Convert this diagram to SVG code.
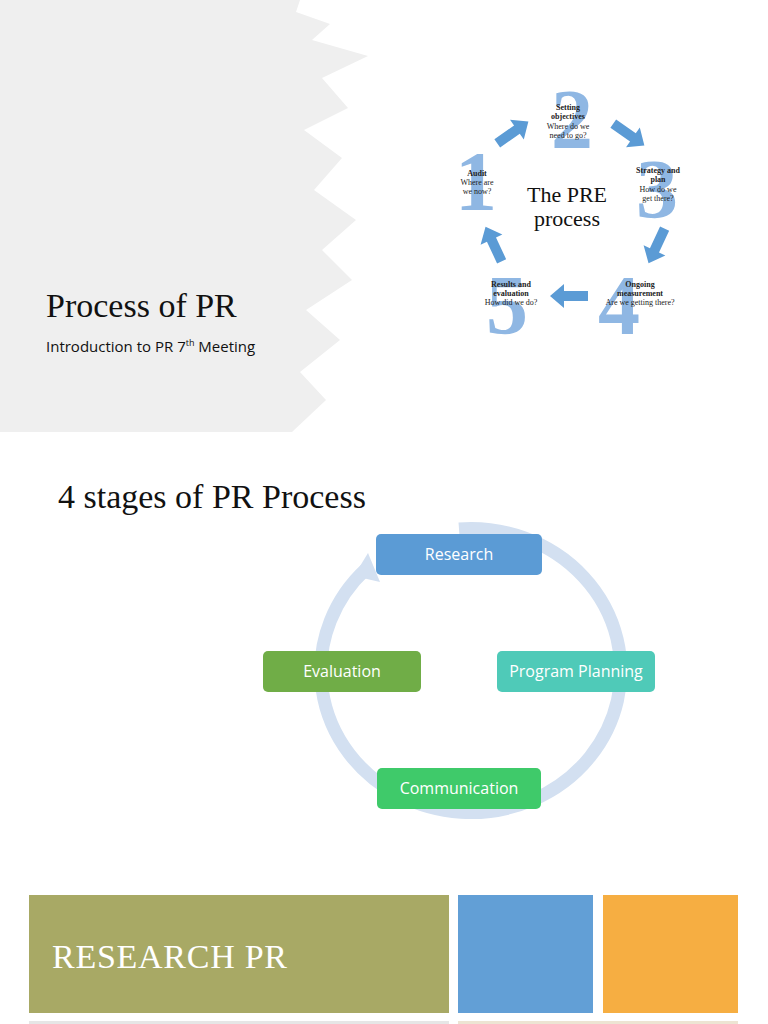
<svg xmlns="http://www.w3.org/2000/svg" width="768" height="1024" viewBox="0 0 768 1024">
<style>
.serif{font-family:"Liberation Serif",serif}
.sans{font-family:"Open Sans","Liberation Sans",sans-serif}
.num{font-family:"Liberation Serif",serif;font-size:84px;fill:#8fb7e3;font-weight:bold}
.lb{font-family:"Liberation Serif",serif;font-size:8px;fill:#222;text-anchor:middle}
.box{font-family:"Open Sans","Liberation Sans",sans-serif;font-size:16px;fill:#fff;text-anchor:middle}
.arr{fill:#5b9bd5}
</style>
<defs>
<polygon id="ar" points="-18,-5 6,-5 6,-12 20,0 6,12 6,5 -18,5"/>
</defs>
<rect width="768" height="1024" fill="#fff"/>
<path d="M0,0 H300 L296,12 L330,24 L312,40 L368,56 L322,78 L348,108 L304,130 L342,158 L314,190 L356,220 L322,250 L352,280 L306,310 L340,340 L300,372 L326,400 L292,432 H0 Z" fill="#efefef"/>
<text class="serif" x="46" y="317" font-size="34" fill="#111">Process of PR</text>
<text class="sans" x="46" y="352" font-size="15" fill="#111">Introduction to PR 7<tspan font-size="9" dy="-6">th</tspan><tspan dy="6"> Meeting</tspan></text>
<g id="pre">
<text class="num" x="455" y="210">1</text>
<text class="num" x="551" y="148">2</text>
<text class="num" x="636" y="218">3</text>
<text class="num" x="598" y="334">4</text>
<text class="num" x="486" y="334">5</text>
<use href="#ar" class="arr" transform="translate(512,133) rotate(-35)"/>
<use href="#ar" class="arr" transform="translate(628,134) rotate(35)"/>
<use href="#ar" class="arr" transform="translate(657,245) rotate(115)"/>
<use href="#ar" class="arr" transform="translate(570,296) rotate(180)"/>
<use href="#ar" class="arr" transform="translate(494,245) rotate(-115)"/>
<text class="serif" x="567" y="202" font-size="22" text-anchor="middle" fill="#111">The PRE</text>
<text class="serif" x="567" y="226" font-size="22" text-anchor="middle" fill="#111">process</text>
<text class="lb" x="568" y="110" font-weight="bold">Setting</text>
<text class="lb" x="568" y="119" font-weight="bold">objectives</text>
<text class="lb" x="568" y="129">Where do we</text>
<text class="lb" x="568" y="138">need to go?</text>
<text class="lb" x="477" y="176" font-weight="bold">Audit</text>
<text class="lb" x="477" y="185">Where are</text>
<text class="lb" x="477" y="194">we now?</text>
<text class="lb" x="658" y="173" font-weight="bold">Strategy and</text>
<text class="lb" x="658" y="182" font-weight="bold">plan</text>
<text class="lb" x="658" y="192">How do we</text>
<text class="lb" x="658" y="201">get there?</text>
<text class="lb" x="640" y="287" font-weight="bold">Ongoing</text>
<text class="lb" x="640" y="296" font-weight="bold">measurement</text>
<text class="lb" x="640" y="305">Are we getting there?</text>
<text class="lb" x="511" y="287" font-weight="bold">Results and</text>
<text class="lb" x="511" y="296" font-weight="bold">evaluation</text>
<text class="lb" x="511" y="305">How did we do?</text>
</g>
<text class="serif" x="58" y="508" font-size="34" fill="#111">4 stages of PR Process</text>
<g id="connectors">
<path d="M459,529 A150,142 0 1 1 366,569" fill="none" stroke="#d3e0f1" stroke-width="13"/>
<polygon points="354,576 368,553 380,582" fill="#d3e0f1"/>
</g>
<g id="research"><rect x="376" y="534" width="166" height="41" rx="5" fill="#5b9bd5"/><text class="box" x="459" y="560">Research</text></g>
<g id="planning"><rect x="497" y="651" width="158" height="41" rx="5" fill="#4fcab8"/><text class="box" x="576" y="677">Program Planning</text></g>
<g id="evaluation"><rect x="263" y="651" width="158" height="41" rx="5" fill="#70ad47"/><text class="box" x="342" y="677">Evaluation</text></g>
<g id="communication"><rect x="377" y="768" width="164" height="41" rx="5" fill="#3fca6a"/><text class="box" x="459" y="794">Communication</text></g>
<rect x="29" y="895" width="420" height="118" fill="#a8a965"/>
<text class="serif" x="52" y="968" font-size="34" fill="#fff" textLength="235">RESEARCH PR</text>
<rect x="458" y="895" width="135" height="118" fill="#629fd6"/>
<rect x="603" y="895" width="135" height="118" fill="#f6ae42"/>
<rect x="29" y="1021" width="420" height="3" fill="#e6e6e6"/>
<rect x="458" y="1021" width="280" height="3" fill="#ede4d3"/>
</svg>
